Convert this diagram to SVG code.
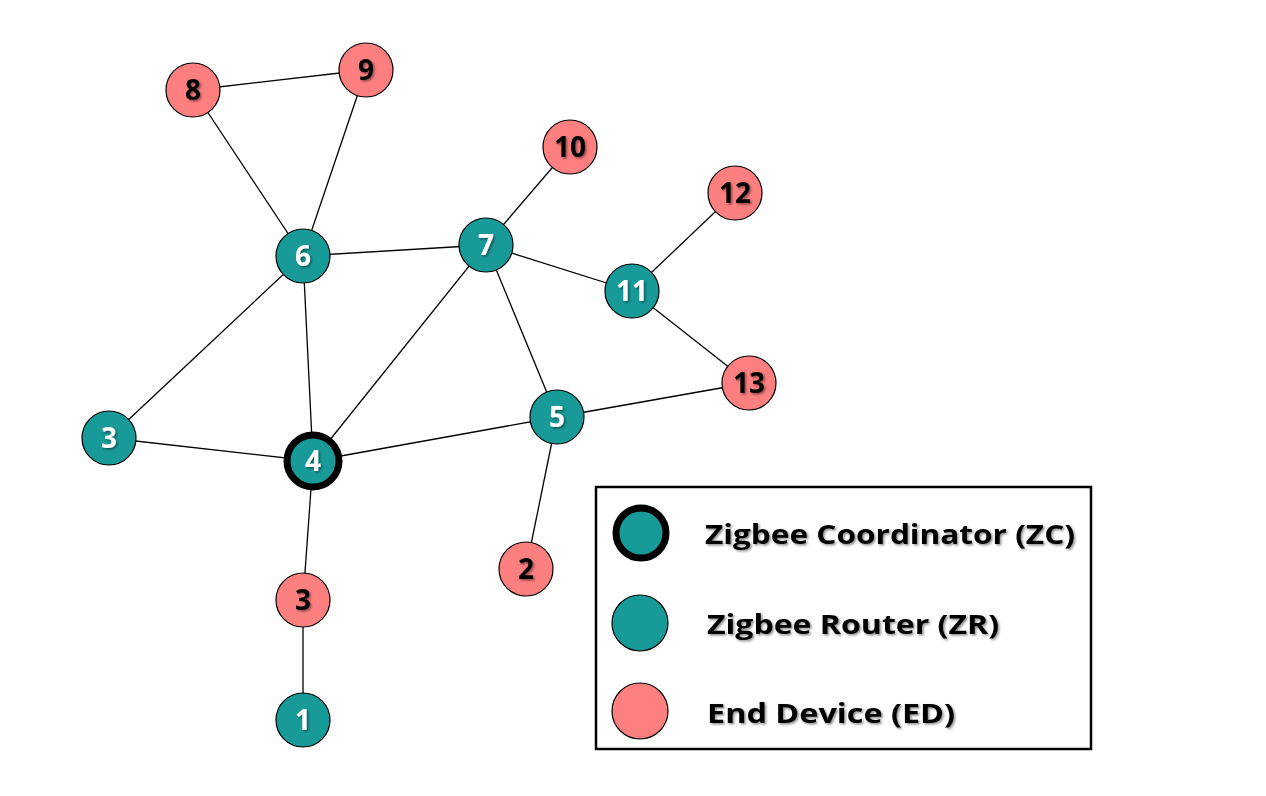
<svg xmlns="http://www.w3.org/2000/svg" width="1266" height="796" viewBox="0 0 1266 796">
<style>
.t{fill:#189A98;stroke:#000;stroke-width:1.2}
.p{fill:#FE7F7F;stroke:#000;stroke-width:1.2}
.c{fill:#189A98;stroke:#000;stroke-width:7}
text{font-family:"Open Sans","Liberation Sans",sans-serif;font-weight:bold;text-anchor:middle;filter:url(#sh)}
.w{fill:#fff;font-size:28px}
.b{fill:#000;font-size:28px}
.l{fill:#000;font-size:26px;text-anchor:start}
#edges line{stroke:#000;stroke-width:1.3}
</style>
<defs><filter id="sh" x="-20%" y="-20%" width="140%" height="140%"><feDropShadow dx="1.5" dy="1.5" stdDeviation="1" flood-color="#000" flood-opacity="0.45"/></filter></defs>
<rect width="1266" height="796" fill="#fff"/>
<g id="edges">
<line x1="193" y1="90" x2="366" y2="70"/>
<line x1="193" y1="90" x2="303" y2="256"/>
<line x1="366" y1="70" x2="303" y2="256"/>
<line x1="303" y1="256" x2="486" y2="245"/>
<line x1="303" y1="256" x2="109" y2="438"/>
<line x1="303" y1="256" x2="313" y2="461"/>
<line x1="486" y1="245" x2="570" y2="147"/>
<line x1="486" y1="245" x2="632" y2="291"/>
<line x1="486" y1="245" x2="313" y2="461"/>
<line x1="486" y1="245" x2="557" y2="417"/>
<line x1="632" y1="291" x2="735" y2="193"/>
<line x1="632" y1="291" x2="749" y2="383"/>
<line x1="557" y1="417" x2="749" y2="383"/>
<line x1="557" y1="417" x2="313" y2="461"/>
<line x1="557" y1="417" x2="526" y2="569"/>
<line x1="109" y1="438" x2="313" y2="461"/>
<line x1="313" y1="461" x2="303" y2="600"/>
<line x1="303" y1="600" x2="303" y2="720"/>
</g>
<g id="n8"><circle class="p" cx="193" cy="90" r="27"/><text class="b" x="193" y="100">8</text></g>
<g id="n9"><circle class="p" cx="366" cy="70" r="27"/><text class="b" x="366" y="80">9</text></g>
<g id="n10"><circle class="p" cx="570" cy="147" r="27"/><text class="b" x="570" y="157">10</text></g>
<g id="n12"><circle class="p" cx="735" cy="193" r="27"/><text class="b" x="735" y="203">12</text></g>
<g id="n13"><circle class="p" cx="749" cy="383" r="27"/><text class="b" x="749" y="393">13</text></g>
<g id="n2"><circle class="p" cx="526" cy="569" r="27"/><text class="b" x="526" y="579">2</text></g>
<g id="n3p"><circle class="p" cx="303" cy="600" r="27"/><text class="b" x="303" y="610">3</text></g>
<g id="n6"><circle class="t" cx="303" cy="256" r="27"/><text class="w" x="303" y="266">6</text></g>
<g id="n7"><circle class="t" cx="486" cy="245" r="27"/><text class="w" x="486" y="255">7</text></g>
<g id="n11"><circle class="t" cx="632" cy="291" r="27"/><text class="w" x="632" y="301">11</text></g>
<g id="n5"><circle class="t" cx="557" cy="417" r="27"/><text class="w" x="557" y="427">5</text></g>
<g id="n3t"><circle class="t" cx="109" cy="438" r="27"/><text class="w" x="109" y="448">3</text></g>
<g id="n4"><circle class="c" cx="313" cy="461" r="26"/><text class="w" x="313" y="471">4</text></g>
<g id="n1"><circle class="t" cx="303" cy="720" r="27"/><text class="w" x="303" y="730">1</text></g>
<g id="legend">
<rect x="596" y="487" width="495" height="262" fill="#fff" stroke="#000" stroke-width="2.5"/>
<circle class="c" cx="641" cy="533" r="25"/>
<text class="l" x="705" y="544" textLength="370" lengthAdjust="spacingAndGlyphs">Zigbee Coordinator (ZC)</text>
<circle class="t" cx="640" cy="623" r="28"/>
<text class="l" x="707" y="634" textLength="292" lengthAdjust="spacingAndGlyphs">Zigbee Router (ZR)</text>
<circle class="p" cx="640" cy="711" r="28"/>
<text class="l" x="707" y="723" textLength="248" lengthAdjust="spacingAndGlyphs">End Device (ED)</text>
</g>
</svg>
